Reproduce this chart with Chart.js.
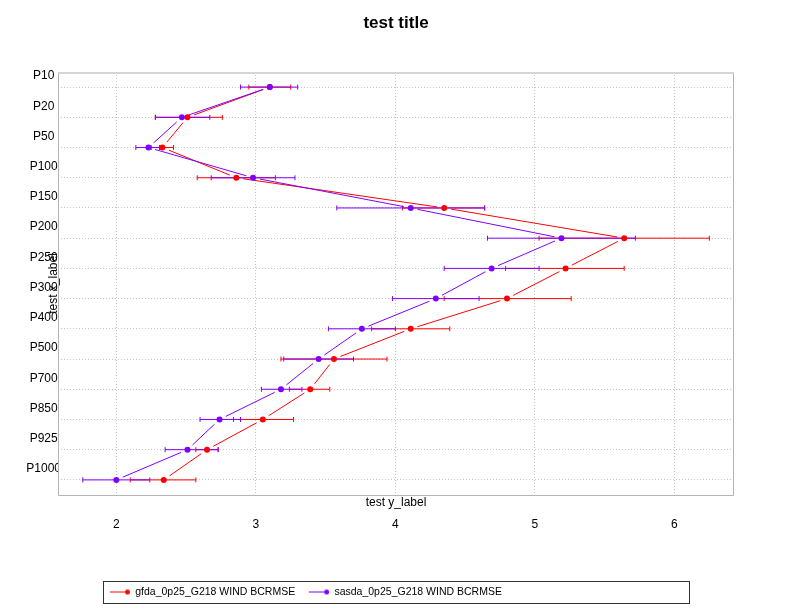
<!DOCTYPE html>
<html>
<head>
<meta charset="utf-8">
<script src="https://cdn.jsdelivr.net/npm/chart.js@4/dist/chart.umd.min.js"></script>
<style>
  html, body { margin: 0; padding: 0; background: #fff; }
  #wrap { width: 792px; height: 612px; }
</style>
</head>
<body>
<div id="wrap"><canvas id="chart" width="792" height="612"></canvas></div>
<script>
// pressure levels (category axis, top to bottom)
var levels = ['P10', 'P20', 'P50', 'P100', 'P150', 'P200', 'P250', 'P300', 'P400', 'P500', 'P700', 'P850', 'P925', 'P1000'];

// gfda series: value and error bar ends
var gfdaVal  = [3.10, 2.51, 2.33, 2.86, 4.35, 5.64, 5.22, 4.80, 4.11, 3.56, 3.39, 3.05, 2.65, 2.34];
var gfdaLow  = [2.95, 2.28, 2.25, 2.58, 4.05, 5.03, 4.79, 4.35, 3.83, 3.18, 3.24, 2.84, 2.57, 2.10];
var gfdaHigh = [3.25, 2.76, 2.41, 3.14, 4.64, 6.25, 5.64, 5.26, 4.39, 3.94, 3.53, 3.27, 2.73, 2.57];

// sasda series
var sasdaVal  = [3.10, 2.47, 2.23, 2.98, 4.11, 5.19, 4.69, 4.29, 3.76, 3.45, 3.18, 2.74, 2.51, 2.00];
var sasdaLow  = [2.89, 2.28, 2.14, 2.68, 3.58, 4.66, 4.35, 3.98, 3.52, 3.20, 3.04, 2.60, 2.35, 1.76];
var sasdaHigh = [3.30, 2.67, 2.31, 3.28, 4.64, 5.72, 5.03, 4.60, 4.00, 3.70, 3.33, 2.89, 2.73, 2.24];

var xTicks = [2, 3, 4, 5, 6];
var xMin = 1.582, xMax = 6.427;

var RED = '#ff0000';
var PURPLE = '#7f00ff';
var FONT = "'Liberation Sans', Arial, Helvetica, sans-serif";

Chart.defaults.font.family = FONT;
Chart.defaults.color = '#000';

function pts(vals) {
  return vals.map(function (v, i) { return { x: v, y: levels[i] }; });
}

// little "line with dot" swatch for the legend
function swatch(color) {
  var c = document.createElement('canvas');
  c.width = 20; c.height = 7;
  var g = c.getContext('2d');
  g.strokeStyle = color; g.lineWidth = 1;
  g.beginPath(); g.moveTo(0, 3.5); g.lineTo(18, 3.5); g.stroke();
  g.fillStyle = color;
  g.beginPath(); g.arc(17.5, 3.5, 2.5, 0, Math.PI * 2); g.fill();
  return c;
}
var swatches = [swatch(RED), swatch(PURPLE)];

// error bars + connecting lines that stop short of the markers
var errLines = {
  id: 'errLines',
  beforeDatasetsDraw: function (chart) {
    var ctx = chart.ctx;
    var xs = chart.scales.x;
    var a = chart.chartArea;
    ctx.save();
    ctx.beginPath();
    ctx.rect(a.left, a.top, a.right - a.left, a.bottom - a.top);
    ctx.clip();
    chart.data.datasets.forEach(function (ds, i) {
      var p = chart.getDatasetMeta(i).data;
      ctx.strokeStyle = ds.borderColor;
      ctx.lineWidth = 1;
      for (var j = 0; j < p.length; j++) {
        var y = p[j].y;
        var x0 = xs.getPixelForValue(ds.errLow[j]);
        var x1 = xs.getPixelForValue(ds.errHigh[j]);
        ctx.beginPath();
        ctx.moveTo(x0, y); ctx.lineTo(x1, y);
        ctx.moveTo(x0, y - 2.5); ctx.lineTo(x0, y + 2.5);
        ctx.moveTo(x1, y - 2.5); ctx.lineTo(x1, y + 2.5);
        ctx.stroke();
      }
      var gap = 7;
      for (var k = 1; k < p.length; k++) {
        var ax = p[k - 1].x, ay = p[k - 1].y, bx = p[k].x, by = p[k].y;
        var d = Math.hypot(bx - ax, by - ay);
        if (d <= gap * 2) continue;
        var ux = (bx - ax) / d, uy = (by - ay) / d;
        ctx.beginPath();
        ctx.moveTo(ax + ux * gap, ay + uy * gap);
        ctx.lineTo(bx - ux * gap, by - uy * gap);
        ctx.stroke();
      }
    });
    ctx.restore();
  }
};

// plot frame, rotated y title, legend frame and legend position
var decor = {
  id: 'decor',
  afterLayout: function (chart) {
    chart.legend.left = 96;
  },
  beforeDatasetsDraw: function (chart) {
    var ctx = chart.ctx;
    var a = chart.chartArea;
    ctx.save();
    ctx.lineWidth = 1;
    ctx.strokeStyle = '#b4b4b4';
    ctx.beginPath();
    ctx.moveTo(a.left + 0.5, a.top); ctx.lineTo(a.left + 0.5, a.bottom + 0.5);
    ctx.lineTo(a.right - 0.5, a.bottom + 0.5); ctx.lineTo(a.right - 0.5, a.top);
    ctx.stroke();
    ctx.strokeStyle = '#d6d6d6';
    ctx.lineWidth = 2;
    ctx.beginPath();
    ctx.moveTo(a.left, a.top + 1); ctx.lineTo(a.right, a.top + 1);
    ctx.stroke();
    ctx.restore();
  },
  afterDraw: function (chart) {
    var ctx = chart.ctx;
    var a = chart.chartArea;
    ctx.save();
    ctx.fillStyle = '#000';
    ctx.font = '12px ' + FONT;
    ctx.translate(57, (a.top + a.bottom) / 2);
    ctx.rotate(-Math.PI / 2);
    ctx.textAlign = 'center';
    ctx.textBaseline = 'alphabetic';
    ctx.fillText('test x_label', 0, 0);
    ctx.restore();

    ctx.save();
    ctx.strokeStyle = '#333';
    ctx.lineWidth = 1;
    ctx.strokeRect(103.5, 581.5, 586, 22);
    ctx.restore();
  }
};

var GRID = '#c4c4c4';

new Chart(document.getElementById('chart'), {
  type: 'line',
  data: {
    labels: levels,
    datasets: [
      {
        label: 'gfda_0p25_G218 WIND BCRMSE',
        data: pts(gfdaVal),
        errLow: gfdaLow, errHigh: gfdaHigh,
        xAxisID: 'x', yAxisID: 'y',
        borderColor: RED, backgroundColor: RED,
        showLine: false, pointRadius: 3, pointBorderWidth: 0,
        order: 1
      },
      {
        label: 'sasda_0p25_G218 WIND BCRMSE',
        data: pts(sasdaVal),
        errLow: sasdaLow, errHigh: sasdaHigh,
        xAxisID: 'x', yAxisID: 'y',
        borderColor: PURPLE, backgroundColor: PURPLE,
        showLine: false, pointRadius: 3, pointBorderWidth: 0,
        order: 0
      }
    ]
  },
  options: {
    responsive: false,
    animation: false,
    indexAxis: 'y',
    layout: { padding: { top: 0, left: 0, right: 0, bottom: 4.75 } },
    scales: {
      y: {
        type: 'category',
        labels: levels,
        offset: true,
        position: 'left',
        border: { display: false, dash: [1, 2] },
        grid: { color: GRID, lineWidth: 1, drawTicks: false },
        ticks: { font: { size: 12 }, crossAlign: 'center', padding: -3, labelOffset: -11, autoSkip: false },
        afterFit: function (s) { s.width = 58; }
      },
      yr: {
        type: 'linear',
        position: 'right',
        border: { display: false },
        grid: { display: false, drawTicks: false },
        ticks: { display: false },
        afterFit: function (s) { s.width = 58; }
      },
      xt: {
        type: 'linear',
        position: 'bottom',
        weight: 0,
        border: { display: false },
        grid: { display: false, drawTicks: false },
        ticks: { display: false },
        title: { display: true, text: 'test y_label', font: { size: 12 }, padding: 0 }
      },
      x: {
        type: 'linear',
        position: 'bottom',
        weight: 1,
        min: xMin, max: xMax,
        border: { display: false, dash: [1, 2] },
        grid: { color: GRID, lineWidth: 1, drawTicks: false },
        ticks: {
          font: { size: 12 }, padding: 8.4, stepSize: 1, includeBounds: false,
          callback: function (v) { return xTicks.indexOf(v) >= 0 ? String(v) : ''; }
        },
        afterFit: function (s) { s.height = 63.35; }
      }
    },
    plugins: {
      title: {
        display: true,
        text: 'test title',
        font: { size: 17, weight: 'bold' },
        padding: { top: 12.8, bottom: 38.8 }
      },
      legend: {
        position: 'bottom',
        align: 'start',
        labels: {
          font: { size: 10.5 },
          usePointStyle: true,
          pointStyleWidth: 20,
          padding: 14,
          generateLabels: function (chart) {
            return chart.data.datasets.map(function (ds, i) {
              return {
                text: ds.label, pointStyle: swatches[i], fillStyle: ds.borderColor,
                strokeStyle: ds.borderColor, lineWidth: 0, hidden: false, datasetIndex: i, fontColor: '#000'
              };
            });
          }
        }
      },
      tooltip: { enabled: false }
    }
  },
  plugins: [errLines, decor]
});
</script>
</body>
</html>
